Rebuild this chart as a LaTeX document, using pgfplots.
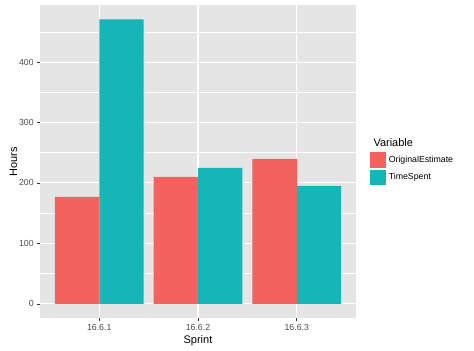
\documentclass[border=0pt]{standalone}
\usepackage{fontspec}
\setmainfont{Liberation Sans}
\usepackage{pgfplots}
\pgfplotsset{compat=1.18}
\definecolor{cRed}{HTML}{F3625F}
\definecolor{cTeal}{HTML}{15B5B8}
\definecolor{panel}{HTML}{E5E5E5}
\begin{document}
\begin{tikzpicture}
\path[use as bounding box] (-40bp,-33bp) rectangle (434bp,318bp);
\begin{axis}[
 at={(0,0)}, anchor=south west,
 scale only axis, width=316bp, height=313bp,
 xmin=0.4, xmax=3.6, ymin=-23.55, ymax=494.6,
 ybar, bar width=0.45,
 legend image code/.code={\fill[#1] (0bp,-7.75bp) rectangle (15.9bp,7.75bp);},
 axis background/.style={fill=panel},
 axis line style={draw=none},
 xtick={1,2,3}, xticklabels={16.6.1,16.6.2,16.6.3},
 ytick={0,100,200,300,400},
 minor ytick={50,150,250,350,450},
 xmajorgrids, ymajorgrids, yminorgrids,
 major grid style={white, line width=1.07pt},
 minor grid style={white, line width=0.53pt},
 tick align=outside, xtick pos=bottom, ytick pos=left,
 major tick length=2.75pt, minor tick length=0pt,
 tick style={draw=black!80, line width=0.53pt},
 ticklabel style={font=\fontsize{8.8}{10}\selectfont, text=black!70},
 /pgf/number format/assume math mode=true,
 xlabel={Sprint}, ylabel={Hours},
 label style={font=\fontsize{11}{13}\selectfont},
 xlabel style={at={(axis description cs:0.5,-0.0735)}, anchor=center},
 ylabel style={at={(axis description cs:-0.0845,0.5)}, anchor=center},
 legend style={at={(axis description cs:1.0443,0.5304)}, anchor=north west, draw=none, fill=none, inner sep=0pt, font=\fontsize{8.8}{10}\selectfont, row sep=1.9bp, nodes={inner sep=0pt}},
 legend cell align=left,
]
\addplot[bar shift=-0.225, fill=cRed, draw=none] coordinates {(1,177) (2,210) (3,240)};
\addlegendentry{\hspace{2.7bp}OriginalEstimate}
\addplot[bar shift=0.225, fill=cTeal, draw=none] coordinates {(1,471) (2,225) (3,195)};
\addlegendentry{\hspace{2.7bp}TimeSpent}
\end{axis}
\node[anchor=base west, font=\fontsize{11}{13}\selectfont] at (330bp,171bp) {Variable};
\end{tikzpicture}
\end{document}
